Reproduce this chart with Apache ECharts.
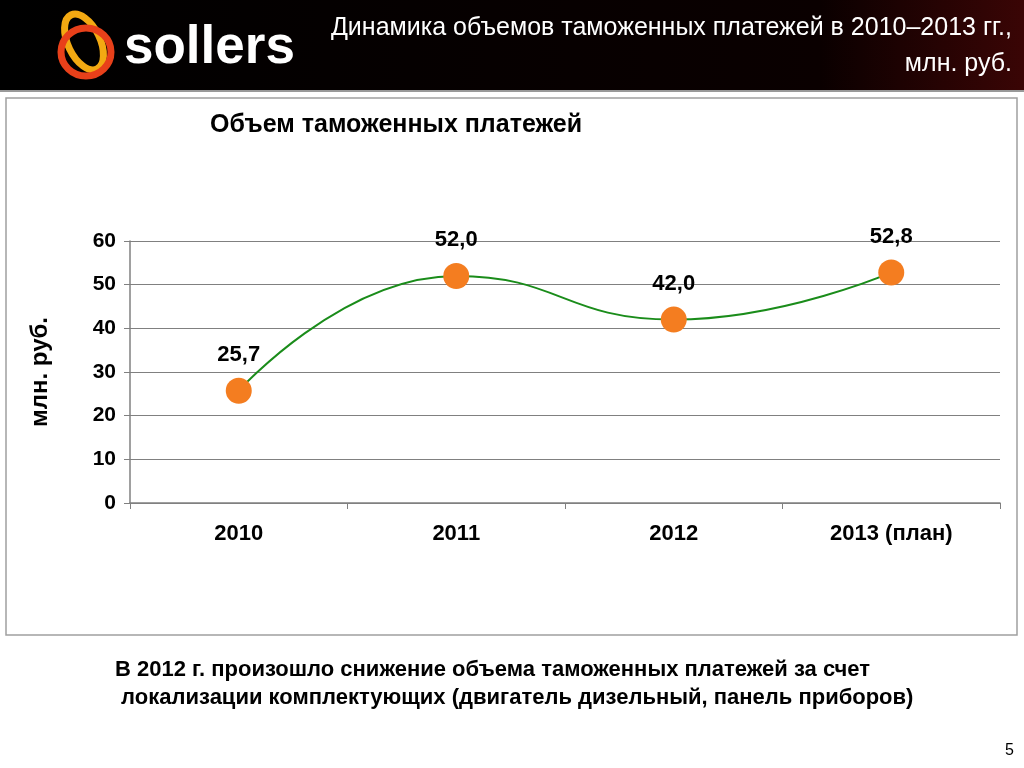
<!DOCTYPE html>
<html>
<head>
<meta charset="utf-8">
<script src="https://cdn.jsdelivr.net/npm/echarts@6/dist/echarts.min.js"></script>
<style>
  html, body { margin: 0; padding: 0; background: #fff; }
  #main { width: 1024px; height: 768px; }
</style>
</head>
<body>
<div id="main"></div>
<script>
const years = ['2010', '2011', '2012', '2013 (план)'];
const payments = [25.7, 52.0, 42.0, 52.8];
const yTicks = [0, 10, 20, 30, 40, 50, 60];

let myChart = echarts.init(document.getElementById('main'));

let option = {
    backgroundColor: '#fff',
    textStyle: { fontFamily: 'Liberation Sans, Arial, sans-serif' },
    graphic: [
        // header bar
        {
            type: 'rect', shape: { x: 0, y: 0, width: 1024, height: 90 },
            style: {
                fill: new echarts.graphic.LinearGradient(0, 0, 1, 0, [
                    { offset: 0, color: '#000' },
                    { offset: 0.8, color: '#0a0000' },
                    { offset: 1, color: '#3a0505' }
                ])
            }
        },
        { type: 'rect', shape: { x: 0, y: 90, width: 1024, height: 2 }, style: { fill: '#999' } },
        // logo
        {
            type: 'ellipse', shape: { cx: 84, cy: 42, rx: 16, ry: 30 }, rotation: 0.45, originX: 84, originY: 42,
            style: { fill: 'none', stroke: '#f3a912', lineWidth: 7 }
        },
        {
            type: 'ellipse', shape: { cx: 86, cy: 52, rx: 25, ry: 24 },
            style: { fill: 'none', stroke: '#e8401a', lineWidth: 7 }
        },
        {
            type: 'text', left: 124, top: 22,
            style: { text: 'sollers', fill: '#fff', font: 'bold 53px Liberation Sans, Arial' }
        },
        {
            type: 'text', right: 12, top: 16,
            style: { text: 'Динамика объемов таможенных платежей в 2010–2013 гг.,', fill: '#fff', font: '25px Liberation Sans, Arial' }
        },
        {
            type: 'text', right: 12, top: 52,
            style: { text: 'млн. руб.', fill: '#fff', font: '25px Liberation Sans, Arial' }
        },
        // chart frame
        {
            type: 'rect', shape: { x: 6, y: 98, width: 1011, height: 537 },
            style: { fill: '#fff', stroke: '#a0a0a0', lineWidth: 1.5 }, z: -1
        },
        {
            type: 'text', left: 210, top: 113,
            style: { text: 'Объем таможенных платежей', fill: '#000', font: 'bold 25px Liberation Sans, Arial' }
        },
        {
            type: 'text', left: 115, top: 656,
            style: {
                text: 'В 2012 г. произошло снижение объема таможенных платежей за счет\n локализации комплектующих (двигатель дизельный, панель приборов)',
                fill: '#000', font: 'bold 22px Liberation Sans, Arial', lineHeight: 28
            }
        },
        {
            type: 'text', right: 10, top: 743,
            style: { text: '5', fill: '#000', font: '16px Liberation Sans, Arial' }
        }
    ],
    grid: { left: 130, right: 24, top: 241, bottom: 265 },
    xAxis: {
        type: 'category',
        data: years,
        boundaryGap: true,
        axisLine: { lineStyle: { color: '#808080', width: 1.5 } },
        axisTick: { show: true, alignWithLabel: false, length: 6, lineStyle: { color: '#808080' } },
        axisLabel: { color: '#000', fontWeight: 'bold', fontSize: 22, margin: 20 }
    },
    yAxis: {
        type: 'value',
        min: yTicks[0],
        max: yTicks[yTicks.length - 1],
        interval: 10,
        name: 'млн. руб.',
        nameLocation: 'middle',
        nameGap: 78,
        nameTextStyle: { color: '#000', fontWeight: 'bold', fontSize: 24 },
        axisLine: { show: true, lineStyle: { color: '#808080', width: 1.5 } },
        axisTick: { show: true, length: 6, lineStyle: { color: '#808080' } },
        axisLabel: { color: '#000', fontWeight: 'bold', fontSize: 21, margin: 14 },
        splitLine: { lineStyle: { color: '#808080', width: 1 } }
    },
    series: [{
        type: 'line',
        data: payments,
        smooth: 0.5,
        symbol: 'circle',
        symbolSize: 26,
        lineStyle: { color: '#1a8c1a', width: 2 },
        itemStyle: { color: '#f47d20' },
        label: {
            show: true,
            position: 'top',
            distance: 12,
            color: '#000',
            fontWeight: 'bold',
            fontSize: 22,
            formatter: p => p.value.toFixed(1).replace('.', ',')
        }
    }]
};

myChart.setOption(option);
</script>
</body>
</html>
